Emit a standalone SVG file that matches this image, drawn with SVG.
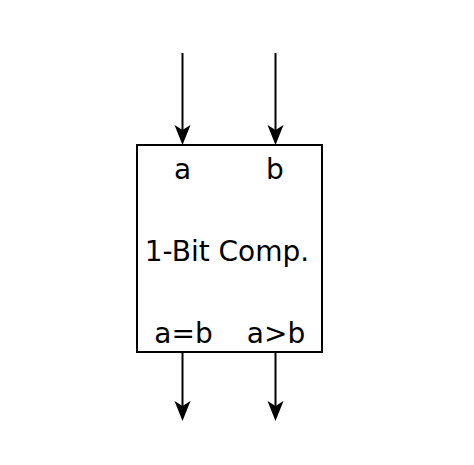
<svg xmlns="http://www.w3.org/2000/svg" width="474" height="465" viewBox="0 0 474 465">
<defs>
<style>
.lbl{font-family:"DejaVu Sans",sans-serif;font-size:28px;fill:#000;text-anchor:middle}
.wire{stroke:#000;stroke-width:2;fill:none}
</style>
<marker id="ah" markerUnits="userSpaceOnUse" markerWidth="22" markerHeight="18" refX="14" refY="9" orient="auto" viewBox="0 0 22 18">
<path d="M20,9 L0,1 L5,9 L0,17 Z" fill="#000"/>
</marker>
</defs>
<rect width="474" height="465" fill="#fff"/>
<g id="connectors">
<line class="wire" x1="182.5" y1="53" x2="182.5" y2="139" marker-end="url(#ah)"/>
<line class="wire" x1="275.5" y1="53" x2="275.5" y2="139" marker-end="url(#ah)"/>
<line class="wire" x1="182.5" y1="353" x2="182.5" y2="415" marker-end="url(#ah)"/>
<line class="wire" x1="275.5" y1="353" x2="275.5" y2="415" marker-end="url(#ah)"/>
</g>
<g id="comparator">
<rect x="137" y="145" width="185" height="207" fill="#fff" stroke="#000" stroke-width="2"/>
<text class="lbl" x="182.5" y="179">a</text>
<text class="lbl" x="275" y="179">b</text>
<text class="lbl" x="227" y="261">1-Bit Comp.</text>
<text class="lbl" x="183.5" y="343">a=b</text>
<text class="lbl" x="276" y="343">a&gt;b</text>
</g>
</svg>
